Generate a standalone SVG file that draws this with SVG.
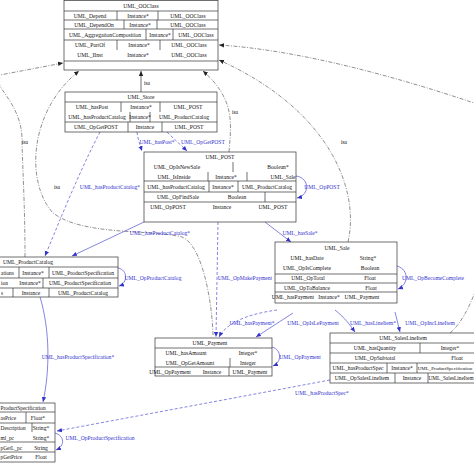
<svg xmlns="http://www.w3.org/2000/svg" width="474" height="474" viewBox="0 0 474 474">
<style>
.bx{fill:#fff;stroke:#333;stroke-width:0.7}
.ln{stroke:#333;stroke-width:0.7;fill:none}
.t{font-family:"Liberation Serif",serif;font-size:5.6px;fill:#111;text-anchor:middle}
.te{font-family:"Liberation Serif",serif;font-size:5.6px;fill:#111;text-anchor:end}
.ts{font-family:"Liberation Serif",serif;font-size:5.4px;fill:#111;text-anchor:start}
.lb{font-family:"Liberation Serif",serif;font-size:5.6px;fill:#3333cc;text-anchor:middle}
.lk{font-family:"Liberation Serif",serif;font-size:5.6px;fill:#111;text-anchor:middle}
.isa{fill:none;stroke:#444;stroke-width:0.6;stroke-dasharray:4 1.5 1 1.5}
.rel{fill:none;stroke:#3333cc;stroke-width:0.6;stroke-dasharray:3 2}
.rs{fill:none;stroke:#3333cc;stroke-width:0.6}
</style>
<defs>
<marker id="ak" markerWidth="6" markerHeight="6" refX="5" refY="3" orient="auto" markerUnits="userSpaceOnUse"><path d="M0,0.8 L5,3 L0,5.2 Z" fill="#222"/></marker>
<marker id="ab" markerWidth="6" markerHeight="6" refX="5" refY="3" orient="auto" markerUnits="userSpaceOnUse"><path d="M0,0.8 L5,3 L0,5.2 Z" fill="#3333cc"/></marker>
</defs>
<rect width="474" height="474" fill="#fff"/>
<g id="connectors">
<path class="ln" d="M141,92 L141,71" marker-end="url(#ak)"/>
<text class="lk" x="147" y="85">isa</text>
<path class="isa" d="M229,152 C231,125 236,100 203,71" marker-end="url(#ak)"/>
<text class="lk" x="235" y="114">isa</text>
<path class="isa" d="M348,242 C360,190 330,110 219,60" marker-end="url(#ak)"/>
<text class="lk" x="344" y="144">isa</text>
<path class="isa" d="M450,333 C490,300 515,140 474,103 C400,78 300,50 219,45" marker-end="url(#ak)"/>
<path class="isa" d="M213,335 C212,300 202,245 182,237 C150,229 80,236 52,212 C25,180 30,110 79,71" marker-end="url(#ak)"/>
<text class="lk" x="57" y="189">isa</text>
<path class="isa" d="M25,257 C25,200 22,160 22,137 C20,100 -10,85 0,75 L63,63" marker-end="url(#ak)"/>
<text class="lk" x="25" y="144">isa</text>
<path class="rel" d="M137,132 C138,140 140,145 142,151" marker-end="url(#ab)"/>
<text class="lb" x="157" y="144">UML_hasPost*</text>
<path class="rel" d="M167,132 C175,140 182,146 187,151" marker-end="url(#ab)"/>
<text class="lb" x="203" y="144">UML_OpGetPOST</text>
<path class="rel" d="M100,132 C80,170 60,220 45,256" marker-end="url(#ab)"/>
<text class="lb" x="110" y="189">UML_hasProductCatalog*</text>
<path class="rs" d="M144,222 L72,256" marker-end="url(#ab)"/>
<text class="lb" x="160" y="235">UML_hasProductCatalog*</text>
<path class="rs" d="M296,176 C310,178 310,195 297,198" marker-end="url(#ab)"/>
<text class="lb" x="322" y="189">UML_OpPOST</text>
<path class="rs" d="M265,222 L291,242" marker-end="url(#ab)"/>
<text class="lb" x="300" y="235">UML_hasSale*</text>
<path class="rel" d="M218,222 L216,337" marker-end="url(#ab)"/>
<text class="lb" x="245" y="280">UML_OpMakePayment</text>
<path class="rs" d="M118,268 C128,270 128,283 119,286" marker-end="url(#ab)"/>
<text class="lb" x="153" y="280">UML_OpProductCatalog</text>
<path class="rs" d="M397,266 C410,270 408,285 398,289" marker-end="url(#ab)"/>
<text class="lb" x="433" y="280">UML_OpBecomeComplete</text>
<path class="rel" d="M277,310 C255,313 228,320 219,337" marker-end="url(#ab)"/>
<text class="lb" x="252" y="325">UML_hasPayment*</text>
<path class="rs" d="M293,313 L256,337" marker-end="url(#ab)"/>
<text class="lb" x="313" y="325">UML_OpIsLePayment</text>
<path class="rs" d="M335,310 C345,318 350,325 355,332" marker-end="url(#ab)"/>
<text class="lb" x="373" y="325">UML_hasLineItem*</text>
<path class="rs" d="M395,312 L400,332" marker-end="url(#ab)"/>
<text class="lb" x="430" y="325">UML_OpIncLineItem</text>
<path class="rs" d="M272,347 C282,350 282,362 273,366" marker-end="url(#ab)"/>
<text class="lb" x="300" y="359">UML_OpPayment</text>
<path class="rel" d="M330,380 L57,431" marker-end="url(#ab)"/>
<text class="lb" x="322" y="395">UML_hasProductSpec*</text>
<path class="rs" d="M55,433 C65,436 65,446 56,450" marker-end="url(#ab)"/>
<text class="lb" x="100" y="440">UML_OpProductSpecification</text>
<path class="rs" d="M40,297 C50,330 50,370 43,402" marker-end="url(#ab)"/>
<text class="lb" x="78" y="359">UML_hasProductSpecification*</text>
</g>
<g id="n-ooclass">
<rect class="bx" x="64" y="0.5" width="154" height="69.5"/>
<path class="ln" d="M64,11 H218 M64,20 H218 M64,29 H218 M64,40 H218 M64,61 H218 M117,11 V20 M158,11 V20 M124,20 V29 M157,20 V29 M146,29 V40 M173,29 V40 M117,40 V50 M160,40 V50"/>
<text class="t" x="141" y="8">UML_OOClass</text>
<text class="t" x="90" y="17.5">UML_Depend</text><text class="t" x="138" y="17.5">Instance*</text><text class="t" x="188" y="17.5">UML_OOClass</text>
<text class="t" x="94" y="26.5">UML_DependOn</text><text class="t" x="140" y="26.5">Instance*</text><text class="t" x="188" y="26.5">UML_OOClass</text>
<text class="t" x="105" y="36.5">UML_AggregationComposition</text><text class="t" x="160" y="36.5">Instance*</text><text class="t" x="196" y="36.5">UML_OOClass</text>
<text class="t" x="90" y="46.5">UML_PartOf</text><text class="t" x="139" y="46.5">Instance*</text><text class="t" x="189" y="46.5">UML_OOClass</text>
<text class="t" x="90" y="56.5">UML_IInst</text><text class="t" x="138" y="56.5">Instance*</text><text class="t" x="189" y="56.5">UML_OOClass</text>
</g>
<g id="n-store">
<rect class="bx" x="65" y="92" width="152" height="40"/>
<path class="ln" d="M65,102 H217 M65,122 H217 M121,102 V112 M160,102 V112 M130,112 V122 M150,112 V122 M128,122 V132 M162,122 V132"/>
<text class="t" x="141" y="99">UML_Store</text>
<text class="t" x="92" y="108.5">UML_hasPost</text><text class="t" x="141" y="108.5">Instance*</text><text class="t" x="188" y="108.5">UML_POST</text>
<text class="t" x="97" y="118.5">UML_hasProductCatalog</text><text class="t" x="140" y="118.5">Instance*</text><text class="t" x="184" y="118.5">UML_ProductCatalog</text>
<text class="t" x="96" y="128.5">UML_OpGetPOST</text><text class="t" x="145" y="128.5">Instance</text><text class="t" x="189" y="128.5">UML_POST</text>
</g>
<g id="n-post">
<rect class="bx" x="144" y="152" width="152" height="70"/>
<path class="ln" d="M144,181 H296 M144,192 H296 M144,202 H296 M233,162 V172 M208,172 V181 M247,172 V181 M209,181 V192 M238,181 V192 M265,192 V202"/>
<text class="t" x="220" y="159">UML_POST</text>
<text class="t" x="177" y="169">UML_OpIsNewSale</text><text class="t" x="278" y="169">Boolean*</text>
<text class="t" x="174" y="179">UML_IsInside</text><text class="t" x="226" y="179">Instance*</text><text class="t" x="283" y="179">UML_Sale</text>
<text class="t" x="176" y="189">UML_hasProductCatalog</text><text class="t" x="223" y="189">Instance*</text><text class="t" x="267" y="189">UML_ProductCatalog</text>
<text class="t" x="178" y="199">UML_OpFindSale</text><text class="t" x="237" y="199">Boolean</text>
<text class="t" x="168" y="209">UML_OpPOST</text><text class="t" x="222" y="209">Instance</text><text class="t" x="273" y="209">UML_POST</text>
</g>
<g id="n-productcatalog">
<rect class="bx" x="-70" y="257" width="188" height="40"/>
<path class="ln" d="M-70,267 H118 M-70,278 H118 M-70,288 H118 M19,267 V278 M49,267 V278 M43,278 V288 M13,288 V297 M49,288 V297"/>
<text class="t" x="28" y="264">UML_ProductCatalog</text>
<text class="ts" x="1" y="274.5">ations</text><text class="t" x="33" y="274.5">Instance*</text><text class="t" x="83" y="274.5">UML_ProductSpecification</text>
<text class="ts" x="1" y="284.5">ion</text><text class="t" x="30" y="284.5">Instance*</text><text class="t" x="80" y="284.5">UML_ProductSpecification</text>
<text class="ts" x="1" y="294.5">s</text><text class="t" x="31" y="294.5">Instance</text><text class="t" x="83" y="294.5">UML_ProductCatalog</text>
</g>
<g id="n-sale">
<rect class="bx" x="275" y="242" width="122" height="61"/>
<path class="ln" d="M275,274 H397 M275,283 H397 M275,292 H397"/>
<text class="t" x="337" y="250">UML_Sale</text>
<text class="t" x="307" y="260">UML_hasDate</text><text class="t" x="368" y="260">String*</text>
<text class="t" x="307" y="270">UML_OpIsComplete</text><text class="t" x="370" y="270">Boolean</text>
<text class="t" x="308" y="280">UML_OpTotal</text><text class="t" x="370" y="280">Float</text>
<text class="t" x="307" y="289.5">UML_OpToBalance</text><text class="t" x="371" y="289.5">Float</text>
<text class="t" x="293" y="299">UML_hasPayment</text><text class="t" x="329" y="299">Instance*</text><text class="t" x="362" y="299">UML_Payment</text>
</g>
<g id="n-payment">
<rect class="bx" x="155" y="338" width="117" height="38"/>
<path class="ln" d="M155,348 H272 M155,367 H272 M230,358 V367 M229,367 V376"/>
<text class="t" x="210" y="345">UML_Payment</text>
<text class="t" x="186" y="355">UML_hasAmount</text><text class="t" x="248" y="355">Integer*</text>
<text class="t" x="190" y="364.5">UML_OpGetAmount</text><text class="t" x="248" y="364.5">Integer</text>
<text class="t" x="170" y="373.5">UML_OpPayment</text><text class="t" x="212" y="373.5">Instance</text><text class="t" x="250" y="373.5">UML_Payment</text>
</g>
<g id="n-saleslineitem">
<rect class="bx" x="330" y="333" width="160" height="50"/>
<path class="ln" d="M330,343 H490 M330,353 H490 M330,363 H490 M330,373 H490 M420,343 V353 M387,363 V373 M417,363 V373 M395,373 V383 M428,373 V383"/>
<text class="t" x="403" y="340">UML_SalesLineItem</text>
<text class="t" x="375" y="350">UML_hasQuantity</text><text class="t" x="450" y="350">Integer*</text>
<text class="t" x="375" y="360">UML_OpSubtotal</text><text class="t" x="457" y="360">Float</text>
<text class="t" x="358" y="370">UML_hasProductSpec</text><text class="t" x="402" y="370">Instance*</text><text class="t" x="445" y="370" style="font-size:4.9px">UML_ProductSpecification</text>
<text class="t" x="362" y="380">UML_OpSalesLineItem</text><text class="t" x="412" y="380">Instance</text><text class="t" x="451" y="380" style="font-size:5.3px">UML_SalesLineItem</text>
</g>
<g id="n-productspecification">
<rect class="bx" x="-70" y="403" width="125" height="59"/>
<path class="ln" d="M-70,412 H55 M-70,423 H55 M-70,442 H55 M-70,452 H55 M26,412 V423 M32,423 V432"/>
<text class="ts" x="0.5" y="410">ProductSpecification</text>
<text class="ts" x="0.5" y="420">asPrice</text><text class="t" x="38" y="420">Float*</text>
<text class="ts" x="0.5" y="430">Description</text><text class="t" x="41" y="430">String*</text>
<text class="ts" x="0.5" y="439.5">ml_pc</text><text class="t" x="41" y="439.5">String*</text>
<text class="ts" x="0.5" y="449.5">pGetL_pc</text><text class="t" x="41" y="449.5">String</text>
<text class="ts" x="0.5" y="459">pGetPrice</text><text class="t" x="41" y="459">Float</text>
</g>
</svg>
